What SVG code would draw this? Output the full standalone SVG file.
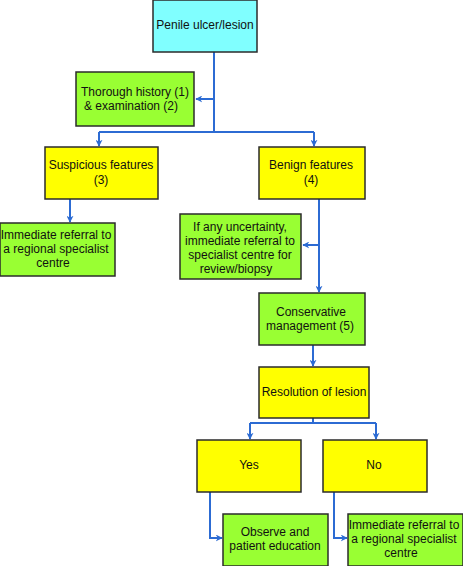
<svg xmlns="http://www.w3.org/2000/svg" width="463" height="566" viewBox="0 0 463 566">
<style>
.box{stroke:#2b2b2b;stroke-width:1.5}
.cy{fill:#80ffff}.gr{fill:#99ff33}.ye{fill:#ffff00}
text{font-family:"Liberation Sans",Arial,sans-serif;font-size:12px;fill:#111;text-anchor:middle}
.c{fill:none;stroke:#2c6bd3;stroke-width:2}
</style>
<defs>
<marker id="ah" viewBox="0 0 10 10" refX="9" refY="5" markerWidth="7" markerHeight="7" orient="auto" markerUnits="userSpaceOnUse">
<path d="M0,0 L10,5 L0,10 L3,5 Z" fill="#2c6bd3"/>
</marker>
</defs>
<g id="connectors">
<path class="c" d="M214,52 V132"/>
<path class="c" d="M214,99 H196" marker-end="url(#ah)"/>
<path class="c" d="M99,132 H314"/>
<path class="c" d="M99,132 V146" marker-end="url(#ah)"/>
<path class="c" d="M314,132 V146" marker-end="url(#ah)"/>
<path class="c" d="M70,199 V222" marker-end="url(#ah)"/>
<path class="c" d="M319,199 V292" marker-end="url(#ah)"/>
<path class="c" d="M319,245 H303" marker-end="url(#ah)"/>
<path class="c" d="M313,345 V366" marker-end="url(#ah)"/>
<path class="c" d="M313,418 V423"/>
<path class="c" d="M250,423 H376"/>
<path class="c" d="M250,423 V439" marker-end="url(#ah)"/>
<path class="c" d="M376,423 V439" marker-end="url(#ah)"/>
<path class="c" d="M210,492 V538 H222" marker-end="url(#ah)"/>
<path class="c" d="M334,492 V538 H347" marker-end="url(#ah)"/>
</g>
<g id="penile"><rect class="box cy" x="153" y="0" width="104" height="52"/><text x="205" y="29">Penile ulcer/lesion</text></g>
<g id="history"><rect class="box gr" x="76" y="72" width="118" height="54"/><text x="135" y="96">Thorough history (1)</text><text x="131" y="110">&amp; examination (2)</text></g>
<g id="suspicious"><rect class="box ye" x="45" y="147" width="113" height="52"/><text x="101" y="169">Suspicious features</text><text x="101" y="184">(3)</text></g>
<g id="benign"><rect class="box ye" x="259" y="147" width="106" height="52"/><text x="311" y="169">Benign features</text><text x="311" y="184">(4)</text></g>
<g id="referral1"><rect class="box gr" x="0" y="223" width="115" height="53"/><text x="56" y="239">Immediate referral to</text><text x="56" y="253">a regional specialist</text><text x="53" y="267">centre</text></g>
<g id="uncertainty"><rect class="box gr" x="180" y="214" width="121" height="65"/><text x="240" y="231">If any uncertainty,</text><text x="240" y="245">immediate referral to</text><text x="240" y="259">specialist centre for</text><text x="236" y="273">review/biopsy</text></g>
<g id="conservative"><rect class="box gr" x="259" y="293" width="106" height="52"/><text x="311" y="316">Conservative</text><text x="310" y="330">management (5)</text></g>
<g id="resolution"><rect class="box ye" x="259" y="367" width="110" height="51"/><text x="314" y="396">Resolution of lesion</text></g>
<g id="yes"><rect class="box ye" x="197" y="440" width="104" height="52"/><text x="249" y="469">Yes</text></g>
<g id="no"><rect class="box ye" x="323" y="440" width="104" height="52"/><text x="374" y="469">No</text></g>
<g id="observe"><rect class="box gr" x="223" y="514" width="105" height="52"/><text x="275" y="536">Observe  and</text><text x="275" y="550">patient education</text></g>
<g id="referral2"><rect class="box gr" x="348" y="514" width="115" height="52"/><text x="404" y="529">Immediate referral to</text><text x="404" y="543">a regional specialist</text><text x="401" y="557">centre</text></g>
</svg>
